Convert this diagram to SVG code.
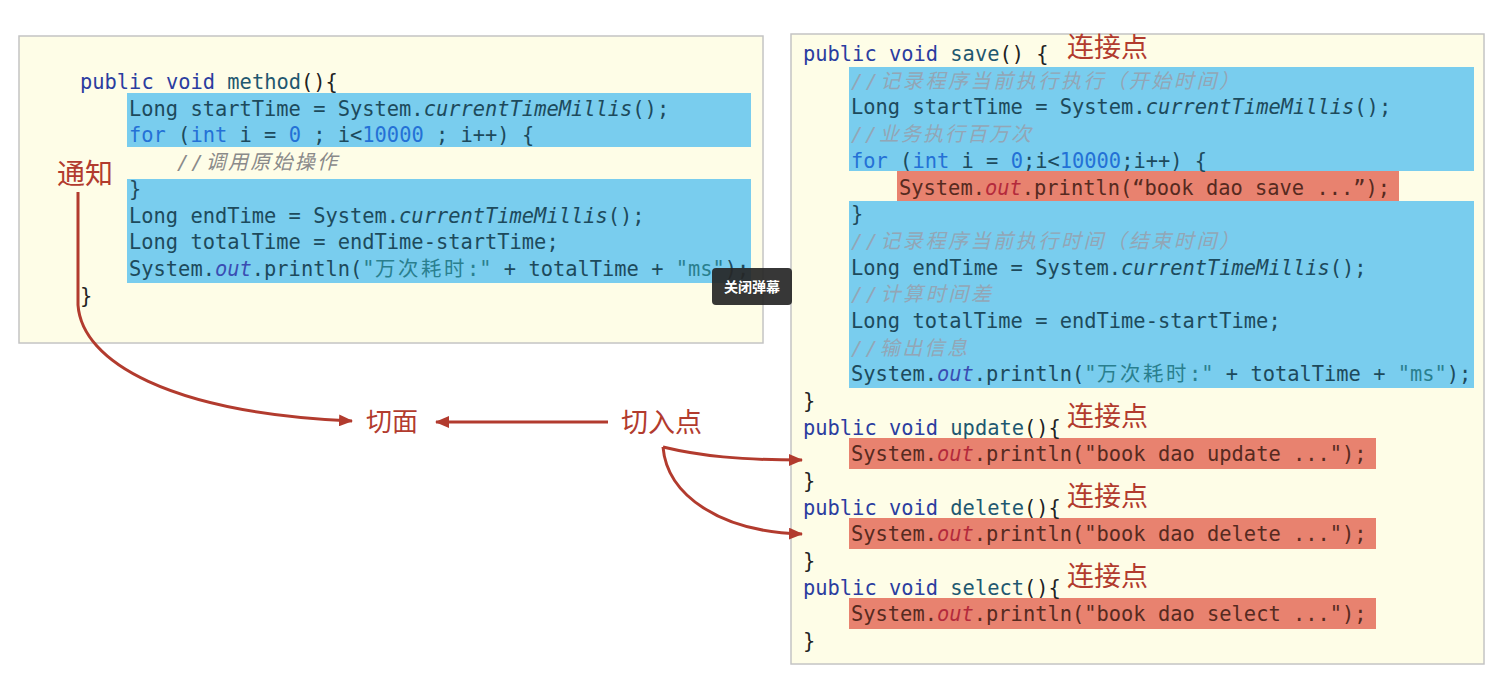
<svg xmlns="http://www.w3.org/2000/svg" width="1496" height="675" viewBox="0 0 1496 675">
<defs>
<style>
.box{fill:#fefde7;stroke:#c4c4c4;stroke-width:1.5}
.hb{fill:#79cdee}
.hr{fill:#e8826f}
.c{font-family:"DejaVu Sans Mono","Liberation Mono","Noto Sans CJK SC",monospace;font-size:20.4px;fill:#1d4a5c}
.k{fill:#2b3da0}
.f{fill:#1f5870}
.n{fill:#2471d6}
.i{font-style:italic}
.o{fill:#3a4db3;font-style:italic}
.or{fill:#b42a3c;font-style:italic}
.s{fill:#2a7f8e}
.r{fill:#562a1f}
.b{fill:#222222}
.cm{font-family:"DejaVu Sans Mono","Noto Sans CJK SC",sans-serif;font-size:20px;font-style:italic;fill:#93a6b6}
.cm2{font-family:"DejaVu Sans Mono","Noto Sans CJK SC",sans-serif;font-size:20px;font-style:italic;fill:#8a8a8a}
.lbl{font-family:"Noto Sans CJK SC",sans-serif;fill:#b23b2e;font-size:27px}
.ar{fill:none;stroke:#b23b2e;stroke-width:3}
</style>
<marker id="ah" markerWidth="14" markerHeight="12" refX="13" refY="6" orient="auto" markerUnits="userSpaceOnUse"><path d="M0,0 L14,6 L0,12 z" fill="#b23b2e"/></marker>
</defs>
<rect width="1496" height="675" fill="#ffffff"/>

<g id="advice-code">
<rect class="box" x="19" y="36" width="744" height="307"/>
<rect class="hb" x="127" y="93" width="624" height="54"/>
<rect class="hb" x="127" y="179" width="624" height="104"/>
<text class="c" x="80" y="89"><tspan class="k">public void </tspan><tspan class="f">method</tspan><tspan class="b">(){</tspan></text>
<text class="c" x="129" y="116">Long startTime = System.<tspan class="i">currentTimeMillis</tspan>();</text>
<text class="c" x="129" y="142"><tspan class="n">for</tspan> (<tspan class="n">int</tspan> i = <tspan class="n">0</tspan> ; i&lt;<tspan class="n">10000</tspan> ; i++) {</text>
<text class="cm2" x="177" y="169" textLength="160" lengthAdjust="spacing">//调用原始操作</text>
<text class="c" x="129" y="196">}</text>
<text class="c" x="129" y="223">Long endTime = System.<tspan class="i">currentTimeMillis</tspan>();</text>
<text class="c" x="129" y="249">Long totalTime = endTime-startTime;</text>
<text class="c" x="129" y="276">System.<tspan class="o">out</tspan>.println(<tspan class="s">"</tspan><tspan class="s" x="375 398 421 444">万次耗时</tspan><tspan class="s" x="467">:"</tspan> + totalTime + <tspan class="s">"ms"</tspan>);</text>
<text class="c b" x="80" y="303">}</text>
</g>

<g id="target-code">
<rect class="box" x="791" y="34" width="693" height="630"/>
<rect class="hb" x="849" y="67" width="625" height="104"/>
<rect class="hr" x="897" y="171" width="502" height="30"/>
<rect class="hb" x="849" y="201" width="625" height="187"/>
<rect class="hr" x="849" y="438" width="527" height="31"/>
<rect class="hr" x="849" y="518" width="527" height="31"/>
<rect class="hr" x="849" y="598" width="527" height="31"/>
<text class="c" x="803" y="61"><tspan class="k">public void </tspan><tspan class="f">save</tspan><tspan class="b">() {</tspan></text>
<text class="cm" x="851" y="88" textLength="388" lengthAdjust="spacing">//记录程序当前执行执行（开始时间）</text>
<text class="c" x="851" y="114">Long startTime = System.<tspan class="i">currentTimeMillis</tspan>();</text>
<text class="cm" x="851" y="141" textLength="180" lengthAdjust="spacing">//业务执行百万次</text>
<text class="c" x="851" y="168"><tspan class="n">for</tspan> (<tspan class="n">int</tspan> i = <tspan class="n">0</tspan>;i&lt;<tspan class="n">10000</tspan>;i++) {</text>
<text class="c r" x="899" y="195">System.<tspan class="or">out</tspan>.println(“book dao save ...”);</text>
<text class="c" x="851" y="221">}</text>
<text class="cm" x="851" y="248" textLength="388" lengthAdjust="spacing">//记录程序当前执行时间（结束时间）</text>
<text class="c" x="851" y="275">Long endTime = System.<tspan class="i">currentTimeMillis</tspan>();</text>
<text class="cm" x="851" y="301" textLength="140" lengthAdjust="spacing">//计算时间差</text>
<text class="c" x="851" y="328">Long totalTime = endTime-startTime;</text>
<text class="cm" x="851" y="355" textLength="116" lengthAdjust="spacing">//输出信息</text>
<text class="c" x="851" y="381">System.<tspan class="o">out</tspan>.println(<tspan class="s">"</tspan><tspan class="s" x="1097 1120 1143 1166">万次耗时</tspan><tspan class="s" x="1189">:"</tspan> + totalTime + <tspan class="s">"ms"</tspan>);</text>
<text class="c b" x="803" y="408">}</text>
<text class="c" x="803" y="435"><tspan class="k">public void </tspan><tspan class="f">update</tspan><tspan class="b">(){</tspan></text>
<text class="c r" x="851" y="461">System.<tspan class="or">out</tspan>.println("book dao update ...");</text>
<text class="c b" x="803" y="488">}</text>
<text class="c" x="803" y="515"><tspan class="k">public void </tspan><tspan class="f">delete</tspan><tspan class="b">(){</tspan></text>
<text class="c r" x="851" y="541">System.<tspan class="or">out</tspan>.println("book dao delete ...");</text>
<text class="c b" x="803" y="568">}</text>
<text class="c" x="803" y="595"><tspan class="k">public void </tspan><tspan class="f">select</tspan><tspan class="b">(){</tspan></text>
<text class="c r" x="851" y="621">System.<tspan class="or">out</tspan>.println("book dao select ...");</text>
<text class="c b" x="803" y="648">}</text>
</g>

<g id="labels">
<text class="lbl" x="57" y="184" style="font-size:28px">通知</text>
<text class="lbl" x="366" y="431" style="font-size:26px">切面</text>
<text class="lbl" x="621" y="432">切入点</text>
<text class="lbl" x="1067" y="57">连接点</text>
<text class="lbl" x="1067" y="426">连接点</text>
<text class="lbl" x="1067" y="506">连接点</text>
<text class="lbl" x="1067" y="586">连接点</text>
</g>

<g id="connectors">
<path class="ar" d="M78 192 L78 305 C82 362 170 413 352 421" marker-end="url(#ah)"/>
<path class="ar" d="M608 422 L436 422" marker-end="url(#ah)"/>
<path class="ar" d="M663 447 C700 456 740 460 802 460" marker-end="url(#ah)"/>
<path class="ar" d="M663 447 C667 495 720 532 802 534" marker-end="url(#ah)"/>
</g>

<g id="tooltip">
<rect x="712" y="268" width="80" height="37" rx="4" fill="#262626" fill-opacity="0.92"/>
<text x="752" y="292" text-anchor="middle" font-family="Noto Sans CJK SC, sans-serif" font-size="14" font-weight="bold" fill="#ffffff">关闭弹幕</text>
</g>
</svg>
